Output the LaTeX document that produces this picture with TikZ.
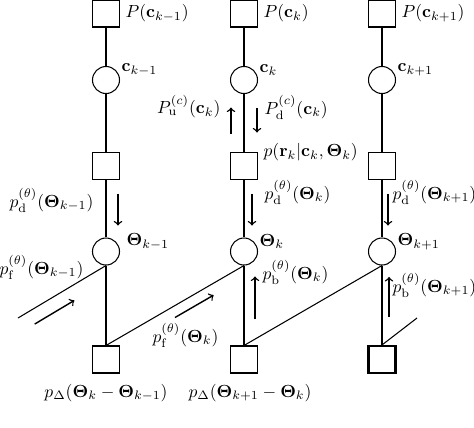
\documentclass[tikz,border=0pt]{standalone}
\usepackage{amsmath}
\usetikzlibrary{positioning,calc}

\begin{document}
\begin{tikzpicture}[
    on grid,
    factor/.style={draw, rectangle, minimum size=0.54cm, inner sep=0pt, line width=0.6pt},
    var/.style={draw, circle, minimum size=0.54cm, inner sep=0pt, line width=0.6pt},
    edge/.style={line width=0.6pt},
    msg/.style={->, line width=0.8pt},
    lbl/.style={inner sep=3pt}
]
\useasboundingbox (0,0) rectangle (9.48,-8.54);

% Column k-1
\node[factor] (pc1) at (2.12,-0.27) {};
\node[var, below=1.33cm of pc1] (c1) {};
\node[factor, below=1.72cm of c1] (fr1) {};
\node[var, below=1.71cm of fr1] (th1) {};
\node[factor, below=2.16cm of th1] (fd1) {};

% Column k
\node[factor, right=2.76cm of pc1] (pc2) {};
\node[var, right=2.76cm of c1] (c2) {};
\node[factor, right=2.76cm of fr1] (fr2) {};
\node[var, right=2.76cm of th1] (th2) {};
\node[factor, right=2.76cm of fd1] (fd2) {};

% Column k+1
\node[factor, right=2.76cm of pc2] (pc3) {};
\node[var, right=2.76cm of c2] (c3) {};
\node[factor, right=2.76cm of fr2] (fr3) {};
\node[var, right=2.76cm of th2] (th3) {};
\node[factor, line width=1.2pt, right=2.76cm of fd2] (fd3) {};

% Free ends of the outer links
\coordinate (in1) at (0.36,-6.36);
\coordinate (out3) at (8.34,-6.36);

% Edges
\draw[edge] (pc1) -- (c1) -- (fr1) -- (th1) -- (fd1);
\draw[edge] (pc2) -- (c2) -- (fr2) -- (th2) -- (fd2);
\draw[edge] (pc3) -- (c3) -- (fr3) -- (th3);
\draw[line width=1.2pt] (th3) -- (fd3);
\draw[edge] (in1) -- (th1.south);
\draw[edge] (fd1.north) -- (th2.south);
\draw[edge] (fd2.north) -- (th3.south);
\draw[edge] (fd3.north) -- (out3);

% Node labels
\node[lbl, anchor=west] (lpc1) at (pc1.east) {$P(\mathbf{c}_{k-1})$};
\node[lbl, anchor=west] (lpc2) at (pc2.east) {$P(\mathbf{c}_{k})$};
\node[lbl, anchor=west] (lpc3) at (pc3.east) {$P(\mathbf{c}_{k+1})$};
\node[lbl, anchor=west] (lc1) at (c1.north east) {$\mathbf{c}_{k-1}$};
\node[lbl, anchor=west] (lc2) at (c2.north east) {$\mathbf{c}_{k}$};
\node[lbl, anchor=west] (lc3) at (c3.north east) {$\mathbf{c}_{k+1}$};
\node[lbl, anchor=west] (lfr2) at (fr2.north east) {$p(\mathbf{r}_k|\mathbf{c}_k,\boldsymbol{\Theta}_k)$};
\node[lbl, anchor=west] (lth1) at ($(th1.north east)+(0.1,0)$) {$\boldsymbol{\Theta}_{k-1}$};
\node[lbl, anchor=west] (lth2) at (th2.north east) {$\boldsymbol{\Theta}_{k}$};
\node[lbl, anchor=west] (lth3) at (th3.north east) {$\boldsymbol{\Theta}_{k+1}$};
\node[lbl, anchor=north] (lfd1) at ($(fd1.south)+(0,-0.1)$) {$p_\Delta(\boldsymbol{\Theta}_k-\boldsymbol{\Theta}_{k-1})$};
\node[lbl, anchor=north] (lfd2) at ($(fd2.south)+(0.12,-0.1)$) {$p_\Delta(\boldsymbol{\Theta}_{k+1}-\boldsymbol{\Theta}_k)$};

% Messages on c_k
\draw[msg] ($(c2.south)+(-0.26,-0.79)$) -- ($(c2.south)+(-0.26,-0.27)$);
\draw[msg] ($(c2.south)+(0.26,-0.27)$) -- ($(c2.south)+(0.26,-0.77)$);
\node[lbl, anchor=east] (lu2) at ($(c2.south)+(-0.36,-0.25)$) {$P^{(c)}_{\mathrm{u}}(\mathbf{c}_k)$};
\node[lbl, anchor=west] (ld2) at ($(c2.south)+(0.30,-0.27)$) {$P^{(c)}_{\mathrm{d}}(\mathbf{c}_k)$};

% Messages down to Theta
\draw[msg] ($(fr1.south)+(0.24,-0.27)$) -- ($(fr1.south)+(0.24,-0.91)$);
\draw[msg] ($(fr2.south)+(0.16,-0.27)$) -- ($(fr2.south)+(0.16,-0.91)$);
\draw[msg] ($(fr3.south)+(0.12,-0.27)$) -- ($(fr3.south)+(0.12,-0.91)$);
\node[lbl, anchor=east] (ldt1) at ($(fr1.south)+(-0.14,-0.41)$) {$p^{(\theta)}_{\mathrm{d}}(\boldsymbol{\Theta}_{k-1})$};
\node[lbl, anchor=west] (ldt2) at ($(fr2.south)+(0.30,-0.25)$) {$p^{(\theta)}_{\mathrm{d}}(\boldsymbol{\Theta}_{k})$};
\node[lbl, anchor=west] (ldt3) at ($(fr3.south)+(0.10,-0.25)$) {$p^{(\theta)}_{\mathrm{d}}(\boldsymbol{\Theta}_{k+1})$};

% Backward messages
\draw[msg] ($(fd2.north)+(0.22,0.52)$) -- ($(fd2.north)+(0.22,1.38)$);
\draw[msg] ($(fd3.north)+(0.14,0.56)$) -- ($(fd3.north)+(0.14,1.36)$);
\node[lbl, anchor=west] (lbt2) at ($(th2.south)+(0.26,-0.14)$) {$p^{(\theta)}_{\mathrm{b}}(\boldsymbol{\Theta}_{k})$};
\node[lbl, anchor=west] (lbt3) at ($(th3.south)+(0.10,-0.40)$) {$p^{(\theta)}_{\mathrm{b}}(\boldsymbol{\Theta}_{k+1})$};

% Forward messages
\draw[msg] ($(in1)!0.19!(th1.south)+(0,-0.32)$) -- ($(in1)!0.64!(th1.south)+(0,-0.32)$);
\draw[msg] ($(fd1.north)!0.5!(th2.south)+(0,-0.24)$) -- ($(fd1.north)!0.78!(th2.south)+(0,-0.24)$);
\node[lbl, anchor=east] (lft1) at ($(th1.south)+(-0.34,-0.04)$) {$p^{(\theta)}_{\mathrm{f}}(\boldsymbol{\Theta}_{k-1})$};
\node[lbl, anchor=east] (lft2) at ($(fd2.north)+(-0.40,0.20)$) {$p^{(\theta)}_{\mathrm{f}}(\boldsymbol{\Theta}_{k})$};

\end{tikzpicture}
\end{document}
